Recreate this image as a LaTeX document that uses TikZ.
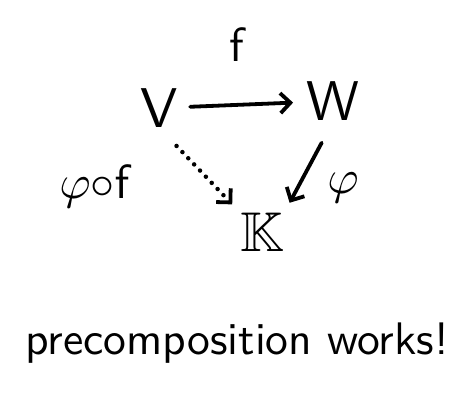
\documentclass[tikz,border=0pt]{standalone}
\usepackage{amssymb}
\usepackage{tikz}
\usetikzlibrary{arrows.meta}

\begin{document}
\begin{tikzpicture}[
              x=1pt,y=-1pt,
              obj/.style={
                  inner sep=0pt,
                  scale=5.6,
                },
              lbl/.style={
                  inner sep=0pt,
                  scale=4.8,
                },
              arr/.style={
                  line width=3.8pt,
                  line cap=round,
                  -{Straight Barb[length=10pt,width=20pt,line width=3.8pt]},
                },
              dots/.style={
                  line width=4.5pt,
                  dash pattern=on 0pt off 8.5pt,
                },
            ]
            \useasboundingbox (0,0) rectangle (474,402);
            \node[obj] (V) at (160,108) {$\mathsf{V}$};
            \node[obj] (W) at (333,101) {$\mathsf{W}$};
            \node[obj] (K) at (262,232) {$\mathbb{K}$};
            % labels of the arrows
            \node[lbl] (f) at (238,45) {$\mathsf{f}$};
            \node[lbl] (pf) at (96,186) {$\varphi{\circ}\mathsf{f}$};
            \node[lbl] (p) at (343,188) {$\varphi$};
            \path[arr]
            (V) edge[shorten <=10pt,shorten >=12pt] (W)
            (V.south) edge[dots,shorten <=24pt,shorten >=10pt] (K.north west)
            (W.south) edge[shorten <=24pt,shorten >=10pt] (K.north east)
            ;
            \node[lbl,scale=0.95,font=\sffamily] (txt) at (237,343) {precomposition works!};
          \end{tikzpicture}
\end{document}
